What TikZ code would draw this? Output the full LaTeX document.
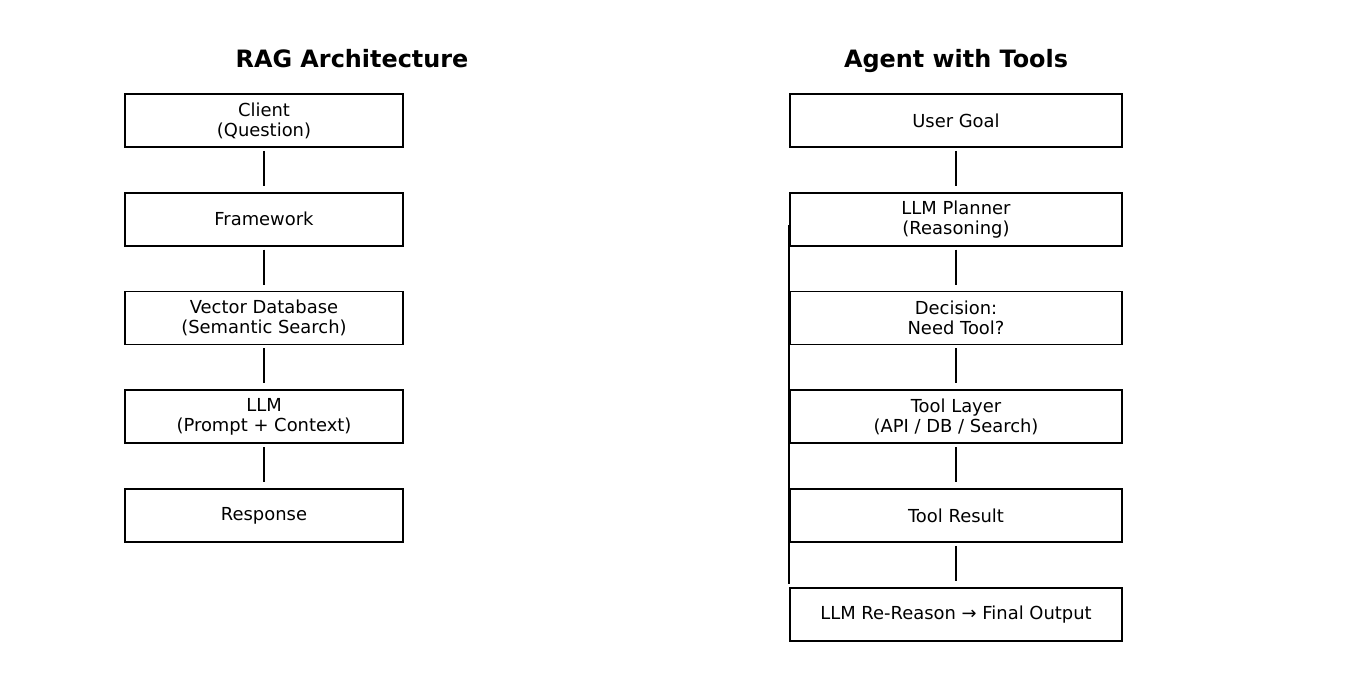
\documentclass[tikz,border=0pt]{standalone}
\usepackage{fontspec}
\setmainfont{DejaVu Sans}
\usepackage{tikz}
\usetikzlibrary{positioning, calc}
\tikzset{
  stage/.style={draw=black, line width=1pt, fill=white, align=center, font=\fontsize{10.2}{11.4}\selectfont, minimum height=10.6mm, inner sep=2pt},
  ragstage/.style={stage, minimum width=55.6mm},
  agentstage/.style={stage, minimum width=66.4mm},
  heading/.style={font=\fontsize{13.6}{15}\selectfont\bfseries, text height=1.5ex, text depth=0.4ex},
  link/.style={line width=1pt, draw=black, shorten <=0.6mm, shorten >=1.2mm},
}
\begin{document}
\begin{tikzpicture}[node distance=8.8mm]
  \useasboundingbox (0,0) rectangle (27.16,-13.78);
  % RAG column
  \node[heading] (ragtitle) at (7.04,-1.25) {RAG Architecture};
  \node[ragstage] (client) at (5.28,-2.41) {Client\\(Question)};
  \node[ragstage, below=of client] (framework) {Framework};
  \node[ragstage, below=of framework] (vectordb) {Vector Database\\(Semantic Search)};
  \node[ragstage, below=of vectordb] (llm) {LLM\\(Prompt + Context)};
  \node[ragstage, below=of llm] (response) {Response};

  \draw[link] (client) -- (framework);
  \draw[link] (framework) -- (vectordb);
  \draw[link] (vectordb) -- (llm);
  \draw[link] (llm) -- (response);

  % Agent column
  \node[heading] (agenttitle) at (19.12,-1.25) {Agent with Tools};
  \node[agentstage] (goal) at (19.12,-2.41) {User Goal};
  \node[agentstage, below=of goal] (planner) {LLM Planner\\(Reasoning)};
  \node[agentstage, below=of planner] (decision) {Decision:\\Need Tool?};
  \node[agentstage, below=of decision] (toollayer) {Tool Layer\\(API / DB / Search)};
  \node[agentstage, below=of toollayer] (toolresult) {Tool Result};
  \node[agentstage, below=of toolresult] (final) {LLM Re-Reason → Final Output};

  \draw[link] (goal) -- (planner);
  \draw[link] (planner) -- (decision);
  \draw[link] (decision) -- (toollayer);
  \draw[link] (toollayer) -- (toolresult);
  \draw[link] (toolresult) -- (final);

  % loop back to the planner
  \coordinate (loopfrom) at ($(final.north west)+(0,0.06)$);
  \coordinate (loopto) at ($(planner.west)+(0,-0.12)$);
  \draw[line width=1pt] (loopfrom) -- (loopto);
\end{tikzpicture}
\end{document}
